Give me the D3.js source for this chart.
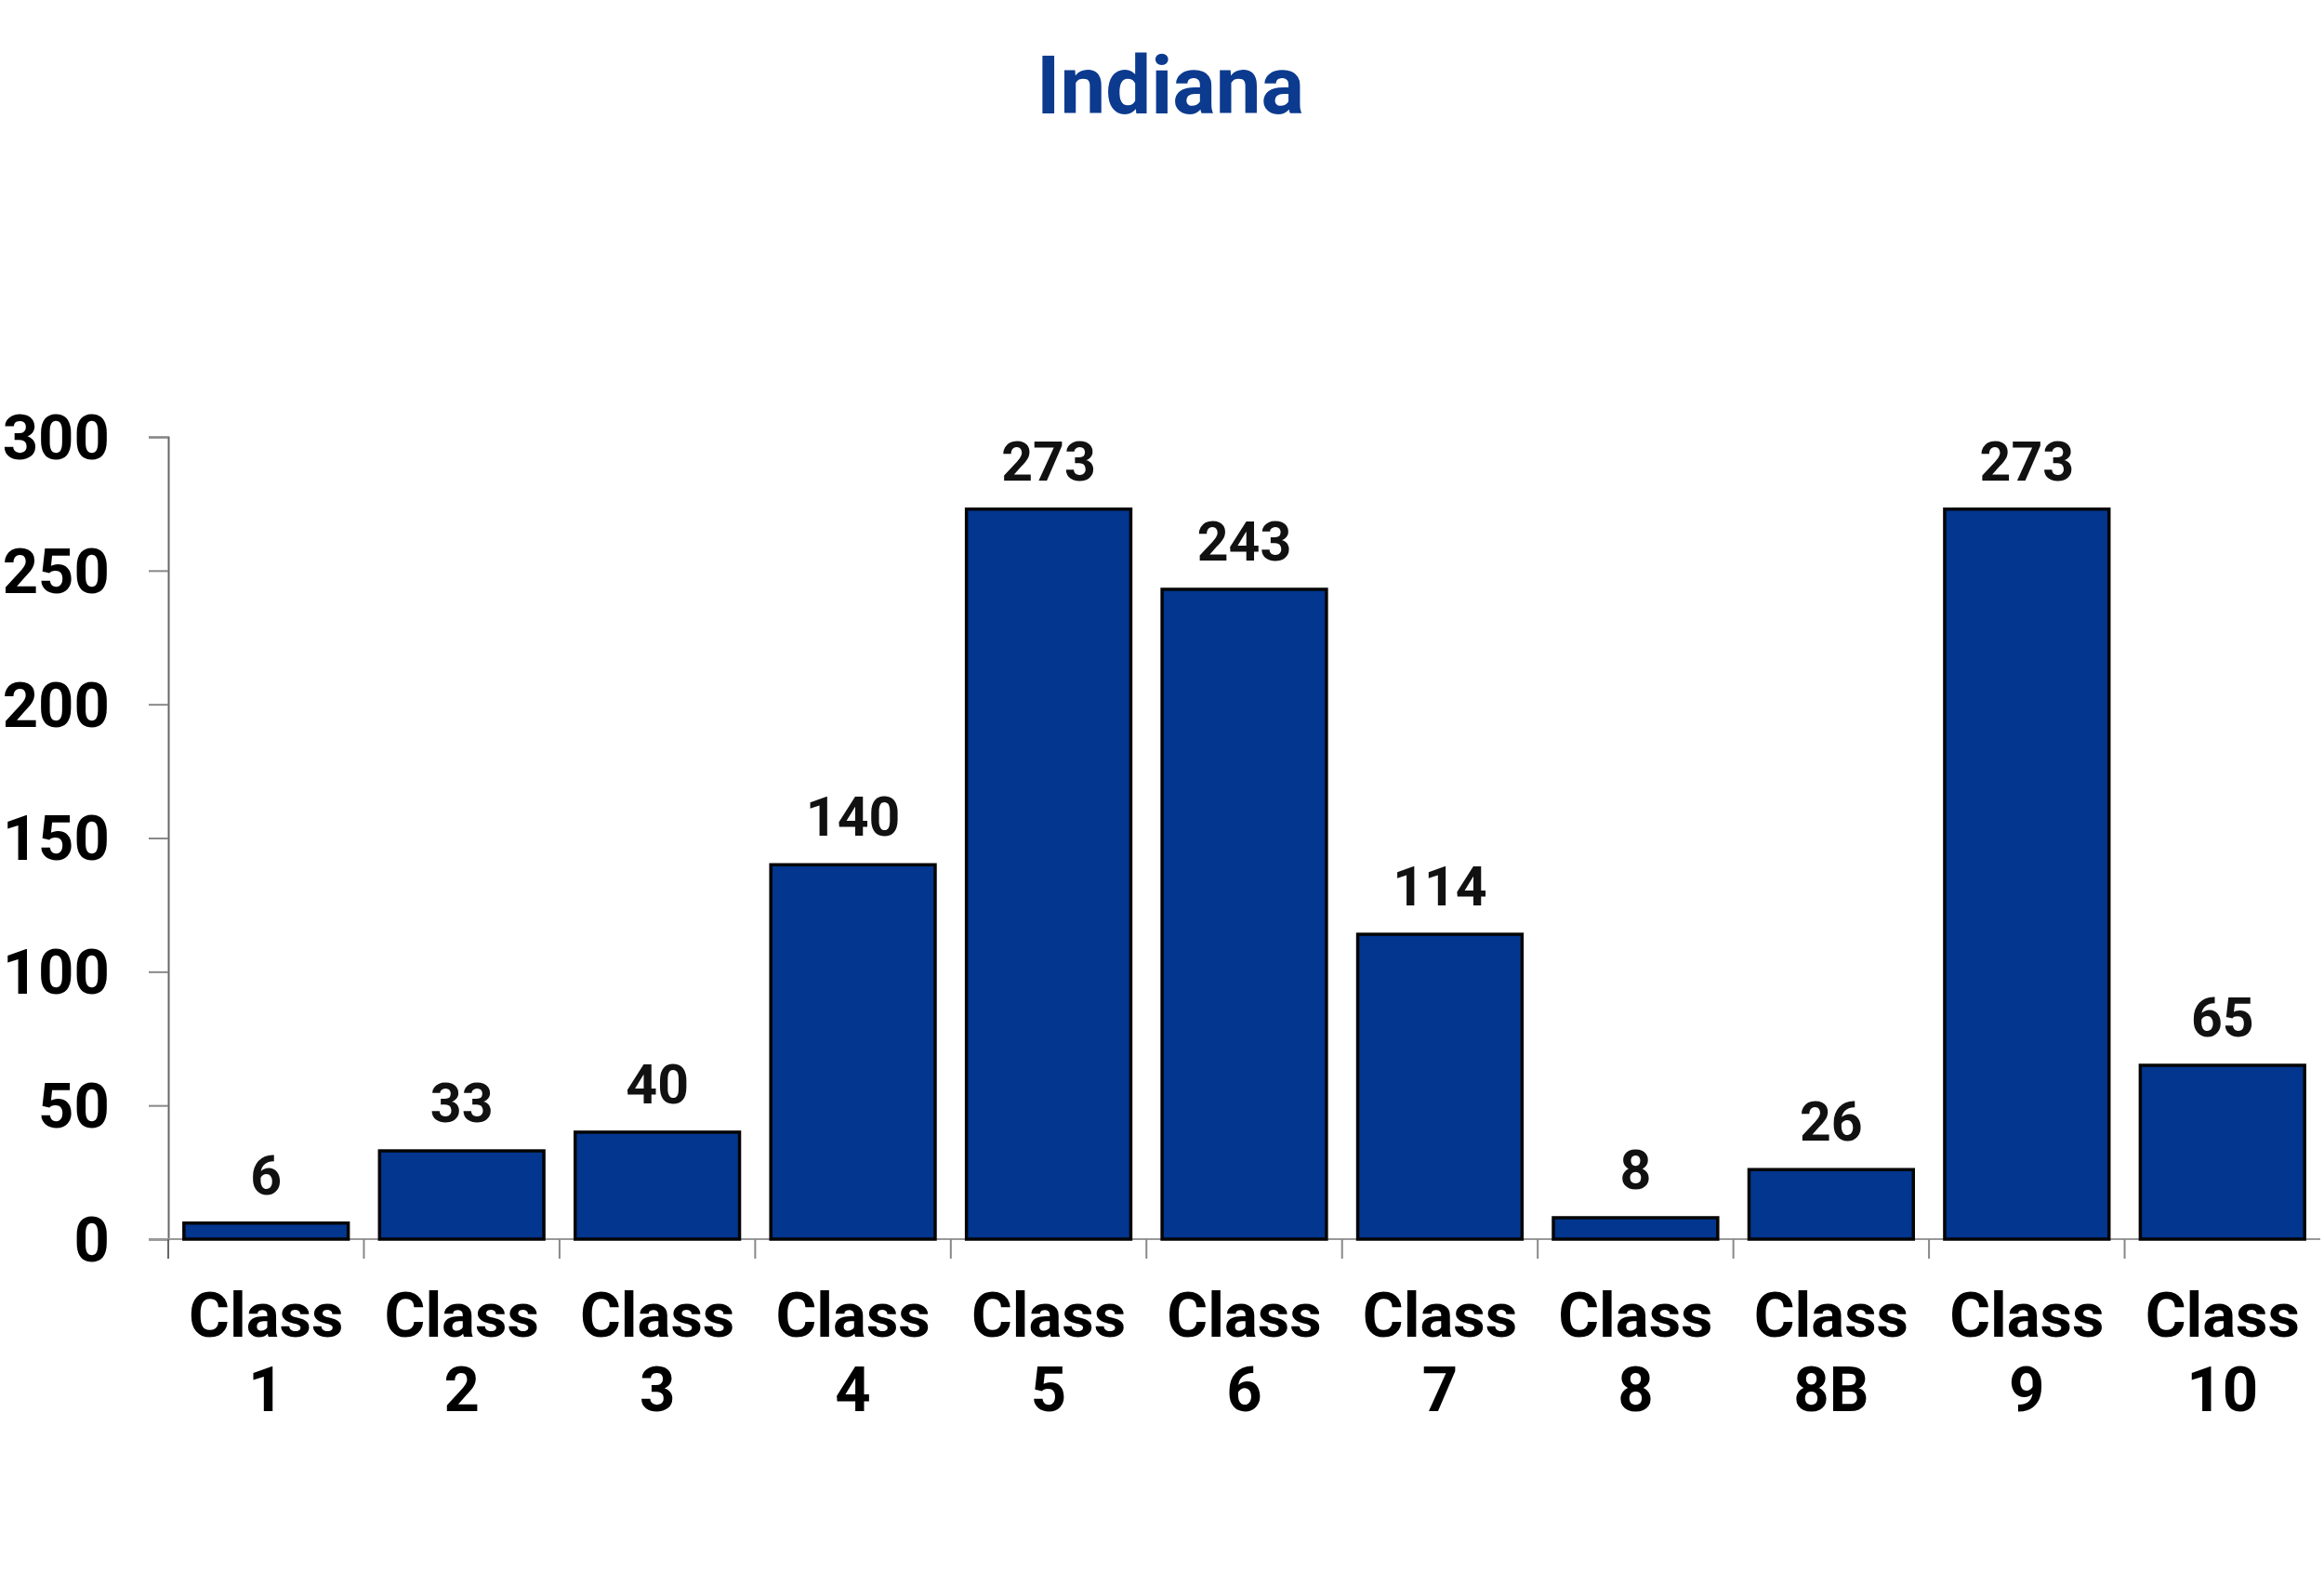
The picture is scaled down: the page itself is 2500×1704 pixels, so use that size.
<!DOCTYPE html>
<html>
<head>
<meta charset="utf-8">
<script src="https://cdn.jsdelivr.net/npm/d3@7"></script>
<style>
  html, body { margin: 0; padding: 0; background: #ffffff; }
  svg { display: block; font-family: Roboto, "Noto Sans", sans-serif; }
</style>
</head>
<body>
<svg id="chart" width="2500" height="1704"></svg>
<script>
const title = "Indiana";
const categories = [["Class","1"],["Class","2"],["Class","3"],["Class","4"],["Class","5"],["Class","6"],["Class","7"],["Class","8"],["Class","8B"],["Class","9"],["Class","10"]];
const values = [6, 33, 40, 140, 273, 243, 114, 8, 26, 273, 65];
const yTicks = [0, 50, 100, 150, 200, 250, 300];

const W = 2500, H = 1704;
const margin = { left: 181, right: 4, top: 470, bottom: 371 };
const svg = d3.select("#chart");

const keys = categories.map(c => c.join(" "));
const x = d3.scaleBand().domain(keys).range([margin.left, W - margin.right]).paddingInner(0.16).paddingOuter(0.08);
const y = d3.scaleLinear().domain([0, 300]).range([H - margin.bottom, margin.top]);

svg.append("text")
  .attr("x", 1259).attr("y", 122)
  .attr("text-anchor", "middle")
  .attr("font-size", 87).attr("font-weight", 700)
  .attr("fill", "#0b3a8e")
  .text(title);

// y axis
const yAxis = svg.append("g").attr("transform", `translate(${margin.left},0)`)
  .call(d3.axisLeft(y).tickValues(yTicks).tickSize(21).tickPadding(42));
yAxis.select(".domain").attr("stroke", "#666").attr("stroke-width", 2);
yAxis.selectAll(".tick line").attr("stroke", "#888").attr("stroke-width", 2);
yAxis.selectAll(".tick text").attr("font-size", 67).attr("font-weight", 700).attr("fill", "#000")
  .attr("font-family", "Roboto").attr("dy", "0.35em");

// x axis line and ticks at band boundaries
const base = y(0);
const xDomainEnd = W - margin.right;
svg.append("line").attr("x1", 160).attr("x2", xDomainEnd).attr("y1", base).attr("y2", base)
  .attr("stroke", "#999").attr("stroke-width", 2);
const boundaries = keys.map(k => x(k) - x.step() * x.paddingInner() / 2);
svg.selectAll(".xtick").data(boundaries.slice(1)).enter().append("line")
  .attr("x1", d => d).attr("x2", d => d).attr("y1", base).attr("y2", base + 21)
  .attr("stroke", "#888").attr("stroke-width", 2);
svg.append("line").attr("x1", margin.left).attr("x2", margin.left).attr("y1", base).attr("y2", base + 21)
  .attr("stroke", "#666").attr("stroke-width", 2);

// bars
svg.selectAll(".bar").data(values).enter().append("rect")
  .attr("x", (d, i) => x(keys[i]))
  .attr("y", d => y(d))
  .attr("width", x.bandwidth())
  .attr("height", d => base - y(d))
  .attr("fill", "#02368f")
  .attr("stroke", "#050505").attr("stroke-width", 3.5);

// value labels
svg.selectAll(".val").data(values).enter().append("text")
  .attr("x", (d, i) => x(keys[i]) + x.bandwidth() / 2)
  .attr("y", d => y(d) - 31)
  .attr("text-anchor", "middle")
  .attr("font-size", 59).attr("font-weight", 700).attr("fill", "#111")
  .text(d => d);

// category labels
const cl = svg.selectAll(".cat").data(categories).enter().append("text")
  .attr("text-anchor", "middle")
  .attr("font-size", 67).attr("font-weight", 700).attr("fill", "#000");
cl.each(function(d, i) {
  const t = d3.select(this);
  const cx = x(keys[i]) + x.bandwidth() / 2;
  d.forEach((line, j) => {
    t.append("tspan").attr("x", cx).attr("y", 1438 + j * 80).text(line);
  });
});
</script>
</body>
</html>
